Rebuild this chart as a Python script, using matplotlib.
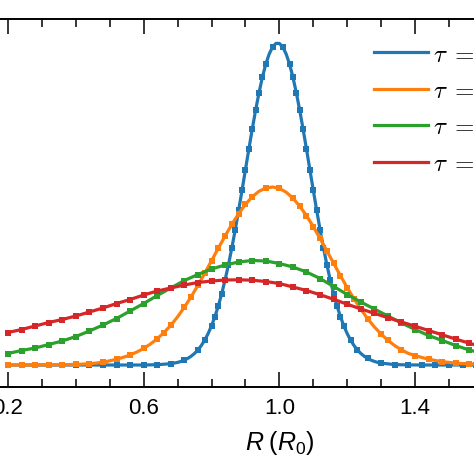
import numpy as np
import matplotlib
matplotlib.use("Agg")
import matplotlib.pyplot as plt
from matplotlib.ticker import MultipleLocator, FixedLocator

plt.rcParams['font.family'] = ['Liberation Sans', 'DejaVu Sans']
plt.rcParams['mathtext.fontset'] = 'custom'
plt.rcParams['mathtext.it'] = 'Liberation Sans:italic'
plt.rcParams['mathtext.rm'] = 'Liberation Sans'

# ---- data (R in units of R0, P(R)) ----
r_blue = np.round(np.concatenate([np.arange(0.20, 0.681, 0.04),
                                  np.arange(0.70, 1.301, 0.01),
                                  np.arange(1.34, 1.621, 0.04)]), 3)
p_blue = [0, 0, 0, 0, 0, 0, 0, 0, 0, 0, 0, 0.003, 0.013,
          0.026, 0.036, 0.049, 0.066, 0.088, 0.116, 0.151, 0.195, 0.249, 0.314,
          0.392, 0.484, 0.590, 0.713, 0.851, 1.004, 1.173, 1.354, 1.548, 1.748,
          1.953, 2.158, 2.358, 2.548, 2.723, 2.878, 3.009, 3.110, 3.180, 3.216,
          3.216, 3.180, 3.110, 3.009, 2.878, 2.723, 2.548, 2.358, 2.158, 1.953,
          1.748, 1.548, 1.354, 1.173, 1.004, 0.851, 0.713, 0.590, 0.484, 0.392,
          0.314, 0.249, 0.195, 0.151, 0.116, 0.088, 0.066, 0.049, 0.036, 0.026,
          0.019,
          0.004, 0.001, 0, 0, 0, 0, 0, 0]

r_orange = np.round(np.arange(0.20, 1.621, 0.02), 3)
p_orange = [0, 0, 0, 0, 0, 0.001, 0.001, 0.002, 0.003, 0.004,
            0.006, 0.009, 0.013, 0.019, 0.028, 0.042, 0.058, 0.077, 0.100, 0.130,
            0.166, 0.210, 0.262, 0.325, 0.397, 0.482, 0.578, 0.683, 0.797, 0.918,
            1.042, 1.168, 1.290, 1.407, 1.513, 1.606, 1.682, 1.737, 1.770, 1.780,
            1.766, 1.728, 1.668, 1.589, 1.493, 1.384, 1.266, 1.142, 1.017, 0.893,
            0.774, 0.662, 0.558, 0.464, 0.381, 0.309, 0.247, 0.194, 0.151, 0.116,
            0.095, 0.075, 0.058, 0.045, 0.034, 0.026, 0.019, 0.014, 0.010, 0.007,
            0.005, 0.004]

r_wide = np.round(np.arange(0.20, 1.641, 0.04), 3)
p_green = [0.115, 0.145, 0.170, 0.205, 0.240, 0.285, 0.340, 0.400, 0.465, 0.540,
           0.615, 0.695, 0.770, 0.845, 0.905, 0.960, 1.000, 1.030, 1.045, 1.040,
           1.015, 0.980, 0.930, 0.865, 0.785, 0.705, 0.630, 0.560, 0.490, 0.420,
           0.355, 0.295, 0.245, 0.195, 0.150, 0.115, 0.085]
p_red = [0.325, 0.355, 0.390, 0.425, 0.455, 0.490, 0.530, 0.570, 0.615, 0.655,
         0.700, 0.740, 0.770, 0.800, 0.825, 0.840, 0.850, 0.852, 0.848, 0.835,
         0.815, 0.780, 0.745, 0.703, 0.657, 0.608, 0.561, 0.517, 0.473, 0.430,
         0.388, 0.345, 0.302, 0.259, 0.218, 0.178, 0.142]

labels = [r"$\tau\;=\;0.1$", r"$\tau\;=\;0.3$", r"$\tau\;=\;1$", r"$\tau\;=\;3$"]
colors = ['#1f77b4', '#ff7f0e', '#2ca02c', '#d62728']
xticks_major = [0.2, 0.6, 1.0, 1.4, 1.8]
xtick_labels = ['0.2', '0.6', '1.0', '1.4', '1.8']

series = [(r_blue, p_blue), (r_orange, p_orange), (r_wide, p_green), (r_wide, p_red)]

fig = plt.figure(figsize=(4.74, 4.74), dpi=100)
ax = fig.add_axes([-0.12624, 0.18354, 1.43122, 0.77637])

for (r, p), c, lab in zip(series, colors, labels):
    ax.plot(r, p, color=c, lw=2.3, label=lab)
    ax.plot(r, p, color=c, ls='none', marker='s', ms=4.0, mew=0,
            markevery=0.01775)

ax.set_xlim(0.0, 2.0)
ax.set_ylim(-0.22, 3.46)
ax.xaxis.set_major_locator(FixedLocator(xticks_major))
ax.set_xticklabels(xtick_labels)
ax.xaxis.set_minor_locator(MultipleLocator(0.1))
ax.tick_params(axis='x', which='both', direction='in', top=True, bottom=True,
               labelsize=16, pad=8)
ax.tick_params(axis='x', which='major', length=11, width=1.1)
ax.tick_params(axis='x', which='minor', length=5.5, width=1.1)
ax.tick_params(axis='y', left=False, labelleft=False)
for s in ax.spines.values():
    s.set_linewidth(1.4)
ax.set_xlabel(r"$R\;(R_0)$", fontsize=18, labelpad=7)

leg = ax.legend(loc='upper left', bbox_to_anchor=(374 / 474, 1 - 42 / 474),
                bbox_transform=fig.transFigure, frameon=False,
                prop={'size': 18, 'math_fontfamily': 'cm'},
                handlelength=2.16, handletextpad=0.2, labelspacing=0.5,
                borderpad=0, borderaxespad=0)

fig.savefig('out.png', dpi=100)
